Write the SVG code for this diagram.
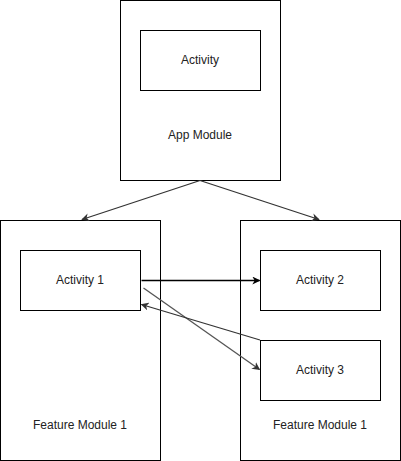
<svg xmlns="http://www.w3.org/2000/svg" width="401" height="461" viewBox="0 0 401 461">
<style>
.box{fill:#fff;stroke:#000;stroke-width:1}
.t{font-family:"Liberation Sans",Arial,sans-serif;font-size:12px;fill:#222;text-anchor:middle}
.c{fill:none;stroke-width:1.3}
</style>
<defs>
<marker id="ahb" viewBox="0 0 10 10" refX="9" refY="5" markerWidth="8" markerHeight="8" markerUnits="userSpaceOnUse" orient="auto">
<path d="M0,0 L10,5 L0,10 L3,5 Z" fill="#000"/>
</marker>
<marker id="ahg" viewBox="0 0 10 10" refX="9" refY="5" markerWidth="8" markerHeight="8" markerUnits="userSpaceOnUse" orient="auto">
<path d="M0,0 L10,5 L0,10 L3,5 Z" fill="#333"/>
</marker>
</defs>
<rect width="401" height="461" fill="#fff"/>
<g id="app-module">
<rect class="box" x="120.5" y="0.5" width="160" height="180"/>
<text class="t" x="200" y="139">App Module</text>
</g>
<g id="app-activity">
<rect class="box" x="140.5" y="30.5" width="120" height="60"/>
<text class="t" x="200" y="64">Activity</text>
</g>
<g id="feature-module-left">
<rect class="box" x="0.5" y="220.5" width="160" height="240"/>
<text class="t" x="80" y="429">Feature Module 1</text>
</g>
<g id="feature-module-right">
<rect class="box" x="240.5" y="220.5" width="160" height="240"/>
<text class="t" x="320" y="429">Feature Module 1</text>
</g>
<g id="activity-1">
<rect class="box" x="20.5" y="250.5" width="120" height="60"/>
<text class="t" x="80" y="284">Activity 1</text>
</g>
<g id="activity-2">
<rect class="box" x="260.5" y="250.5" width="120" height="60"/>
<text class="t" x="320" y="284">Activity 2</text>
</g>
<g id="activity-3">
<rect class="box" x="260.5" y="340.5" width="120" height="60"/>
<text class="t" x="320" y="374">Activity 3</text>
</g>
<g id="connectors">
<line class="c" x1="200" y1="180.5" x2="82" y2="219.5" stroke="#333" marker-end="url(#ahg)"/>
<line class="c" x1="200" y1="180.5" x2="319" y2="219.5" stroke="#333" marker-end="url(#ahg)"/>
<line class="c" x1="141.5" y1="280.5" x2="259.5" y2="280.5" stroke="#000" stroke-width="1" marker-end="url(#ahb)"/>
<line class="c" x1="143.5" y1="288" x2="259.5" y2="369.5" stroke="#555" marker-end="url(#ahg)"/>
<line class="c" x1="260" y1="340" x2="141.5" y2="304.5" stroke="#333" marker-end="url(#ahg)"/>
</g>
</svg>
